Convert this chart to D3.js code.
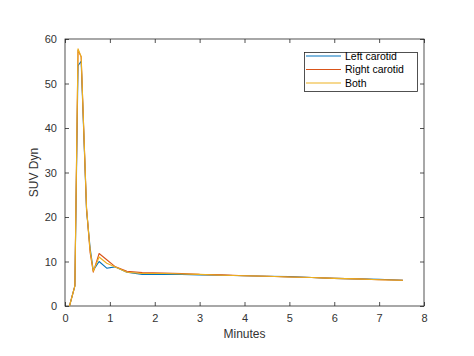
<!DOCTYPE html>
<html>
<head>
<meta charset="utf-8">
<script src="https://cdn.jsdelivr.net/npm/d3@7"></script>
<style>
  html, body { margin: 0; padding: 0; background: #fff; }
  svg { display: block; font-family: "Liberation Sans", Arial, Helvetica, sans-serif; }
</style>
</head>
<body>
<svg id="chart" width="474" height="356"></svg>
<script>
const minutes = [0.10, 0.22, 0.29, 0.36, 0.48, 0.56, 0.63, 0.76, 0.93, 1.11, 1.38, 1.72, 2.2, 2.6, 3.0, 3.5, 4.0, 4.5, 5.0, 5.5, 6.0, 6.5, 7.0, 7.53];
const leftCarotid  = [0, 4.5, 54.0, 55.0, 21.5, 13.0, 8.0, 10.0, 8.5, 8.8, 7.6, 7.1, 7.1, 7.1, 7.0, 6.9, 6.8, 6.7, 6.6, 6.4, 6.2, 6.1, 6.0, 5.8];
const rightCarotid = [0, 4.5, 57.5, 56.0, 22.0, 12.0, 7.6, 11.8, 10.4, 8.9, 7.8, 7.5, 7.4, 7.3, 7.1, 7.0, 6.8, 6.7, 6.5, 6.4, 6.2, 6.1, 5.9, 5.8];
const both         = [0, 4.5, 57.8, 56.0, 22.0, 12.5, 7.8, 11.0, 9.6, 8.8, 7.6, 7.3, 7.3, 7.2, 7.1, 6.9, 6.8, 6.7, 6.5, 6.4, 6.2, 6.1, 5.9, 5.8];
const seriesNames = ["Left carotid", "Right carotid", "Both"];
const seriesColors = ["#0072BD", "#D95319", "#EDB120"];
const xTicks = [0, 1, 2, 3, 4, 5, 6, 7, 8];
const yTicks = [0, 10, 20, 30, 40, 50, 60];

const svg = d3.select("#chart");
const L = 65, R = 424, T = 39, B = 306;
const x = d3.scaleLinear().domain([0, 8]).range([L, R]);
const y = d3.scaleLinear().domain([0, 60]).range([B, T]);
const axisColor = "#262626";

// box
svg.append("rect").attr("x", L).attr("y", T).attr("width", R - L).attr("height", B - T)
  .attr("fill", "none").attr("stroke", axisColor).attr("stroke-width", 0.8);

const tl = 4;
const gBottom = svg.append("g").attr("transform", `translate(0,${B})`)
  .call(d3.axisBottom(x).tickValues(xTicks).tickFormat(d3.format("d")).tickSizeInner(-tl).tickSizeOuter(0).tickPadding(8));
const gTop = svg.append("g").attr("transform", `translate(0,${T})`)
  .call(d3.axisTop(x).tickValues(xTicks).tickFormat("").tickSizeInner(-tl).tickSizeOuter(0));
const gLeft = svg.append("g").attr("transform", `translate(${L},0)`)
  .call(d3.axisLeft(y).tickValues(yTicks).tickFormat(d3.format("d")).tickSizeInner(-tl).tickSizeOuter(0).tickPadding(8));
const gRight = svg.append("g").attr("transform", `translate(${R},0)`)
  .call(d3.axisRight(y).tickValues(yTicks).tickFormat("").tickSizeInner(-tl).tickSizeOuter(0));
[gBottom, gTop, gLeft, gRight].forEach(g => {
  g.select(".domain").remove();
  g.selectAll("line").attr("stroke", axisColor).attr("stroke-width", 0.8);
  g.selectAll("text").attr("fill", "#333").style("font-size", "11px").style("font-family", "Liberation Sans, Arial, sans-serif");
});

// lines
const data = [leftCarotid, rightCarotid, both];
const line = d3.line().x((d, i) => x(minutes[i])).y(d => y(d));
data.forEach((vals, k) => {
  svg.append("path").datum(vals).attr("d", line)
    .attr("fill", "none").attr("stroke", seriesColors[k]).attr("stroke-width", 1.1)
    .attr("stroke-linejoin", "round");
});

// axis labels
svg.append("text").attr("x", (L + R) / 2).attr("y", 338).attr("text-anchor", "middle")
  .attr("fill", "#333").style("font-size", "12px").text("Minutes");
svg.append("text").attr("transform", `translate(38,${(T + B) / 2}) rotate(-90)`).attr("text-anchor", "middle")
  .attr("fill", "#333").style("font-size", "12px").text("SUV Dyn");

// legend
const lg = svg.append("g");
lg.append("rect").attr("x", 304.5).attr("y", 52.5).attr("width", 113).attr("height", 39)
  .attr("fill", "#fff").attr("stroke", axisColor).attr("stroke-width", 0.8);
seriesNames.forEach((name, i) => {
  const yy = 56 + i * 13.5;
  lg.append("line").attr("x1", 306).attr("x2", 341).attr("y1", yy).attr("y2", yy)
    .attr("stroke", seriesColors[i]).attr("stroke-width", 1.1);
  lg.append("text").attr("x", 345).attr("y", yy).attr("dy", "0.35em")
    .attr("fill", "#000").style("font-size", "10.5px").text(name);
});
</script>
</body>
</html>
